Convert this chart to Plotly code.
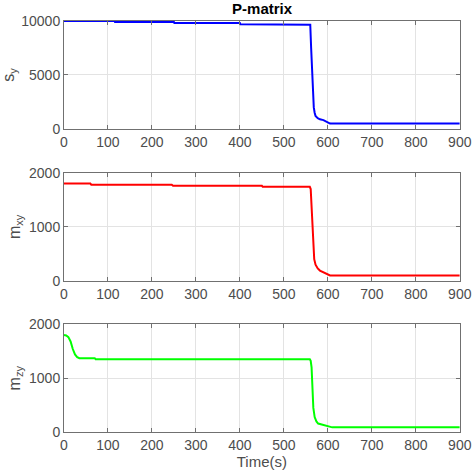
import plotly.graph_objects as go
from plotly.subplots import make_subplots

# data (time in s)
t_sy = [0, 115, 116, 250, 251, 400, 401, 558, 560, 562, 564, 566, 568, 570, 572, 577, 582, 590, 595, 600, 605, 900]
s_y = [10000, 10000, 9900, 9900, 9800, 9800, 9700, 9700, 9650, 7500, 5000, 3000, 2000, 1500, 1200, 1000, 900, 820, 700, 550, 500, 500]

t_mxy = [0, 60, 62, 245, 248, 450, 452, 559, 561, 563, 565, 567, 569, 572, 577, 582, 590, 600, 605, 900]
m_xy = [1800, 1800, 1780, 1780, 1760, 1760, 1740, 1740, 1700, 1400, 850, 550, 400, 300, 230, 190, 160, 120, 100, 100]

t_mzy = [0, 5, 10, 15, 20, 25, 30, 35, 70, 72, 559, 561, 563, 565, 567, 570, 574, 578, 582, 590, 600, 610, 900]
m_zy = [1800, 1790, 1760, 1680, 1540, 1440, 1390, 1370, 1370, 1350, 1350, 1320, 1200, 800, 450, 280, 200, 160, 150, 140, 110, 90, 90]

ylabels = ["s<sub>y</sub>", "m<sub>xy</sub>", "m<sub>zy</sub>"]
colors = ["#0000ff", "#ff0000", "#00ff00"]

font = "Liberation Sans, Arial, sans-serif"
grey = "#4d4d4d"

fig = make_subplots(rows=3, cols=1)
fig.add_trace(go.Scatter(x=t_sy, y=s_y, mode="lines", line=dict(color=colors[0], width=2)), row=1, col=1)
fig.add_trace(go.Scatter(x=t_mxy, y=m_xy, mode="lines", line=dict(color=colors[1], width=2)), row=2, col=1)
fig.add_trace(go.Scatter(x=t_mzy, y=m_zy, mode="lines", line=dict(color=colors[2], width=2)), row=3, col=1)

domains = [(0.729, 0.956), (0.410, 0.637), (0.092, 0.319)]
yranges = [(0, 10000), (0, 2000), (0, 2000)]
ydtick = [5000, 1000, 1000]

for i in range(3):
    r = i + 1
    fig.update_xaxes(row=r, col=1, domain=[0.135, 0.970], range=[0, 900], dtick=100,
                     showgrid=True, gridcolor="#e3e3e3", zeroline=False, automargin=False,
                     showline=True, linecolor="#707070", linewidth=1, mirror="ticks",
                     ticks="inside", ticklen=4, tickcolor="#707070",
                     tickfont=dict(size=14, color=grey, family=font))
    fig.update_yaxes(row=r, col=1, domain=list(domains[i]), range=list(yranges[i]), dtick=ydtick[i],
                     tickformat="d", automargin=False,
                     showgrid=True, gridcolor="#e3e3e3", zeroline=False,
                     showline=True, linecolor="#707070", linewidth=1, mirror="ticks",
                     ticks="inside", ticklen=4, tickcolor="#707070",
                     tickfont=dict(size=14, color=grey, family=font),
                     title=dict(text=ylabels[i], font=dict(size=16, color=grey, family=font), standoff=4))

fig.update_xaxes(row=3, col=1, title=dict(text="Time(s)", font=dict(size=15, color=grey, family=font), standoff=1))

fig.update_layout(
    width=474, height=476,
    margin=dict(l=0, r=0, t=0, b=0),
    paper_bgcolor="white", plot_bgcolor="white",
    showlegend=False,
    title=dict(text="<b>P-matrix</b>", x=0.553, xanchor="center", y=0.992, yanchor="top",
               font=dict(size=15, color="black", family=font)),
)

# page body has a default 8px margin, drop it so the figure sits at the corner
fig.write_html("out.html", config={"displayModeBar": False},
               post_script="document.body.style.margin='0px';")
